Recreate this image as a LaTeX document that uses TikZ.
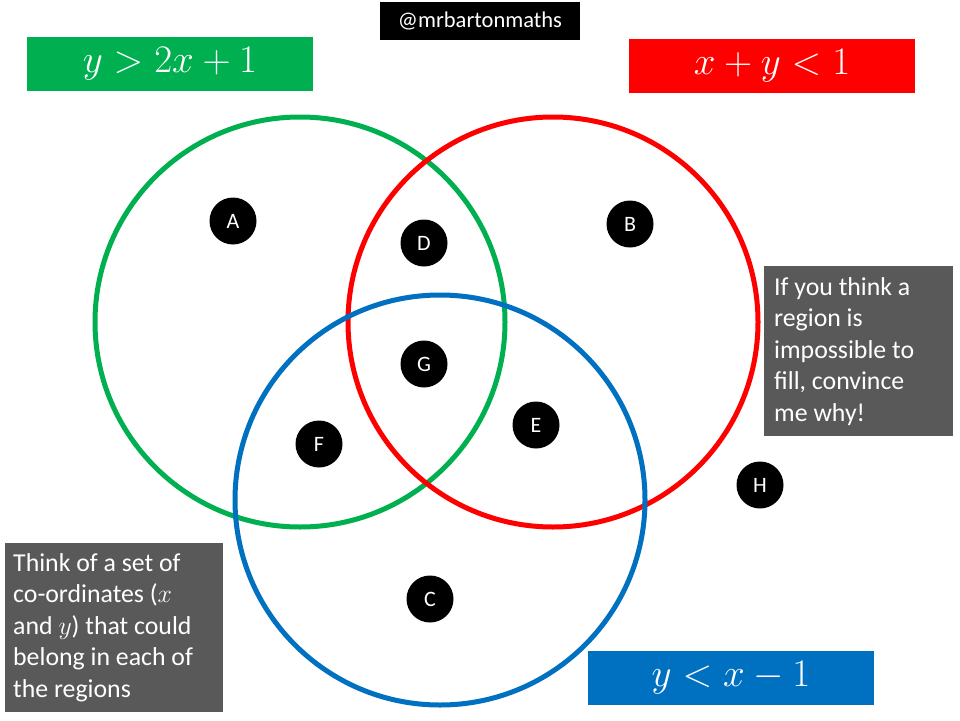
\RequirePackage{fix-cm}
\documentclass[tikz,border=0pt]{standalone}
\usepackage[no-math]{fontspec}
\setmainfont{Carlito}
\definecolor{vgreen}{HTML}{00B050}
\definecolor{vred}{HTML}{FF0000}
\definecolor{vblue}{HTML}{0070C0}
\definecolor{vgray}{HTML}{595959}
\tikzset{
  venn/.style={circle, line width=5pt, minimum size=410pt, inner sep=0pt},
  dot/.style={circle, fill=black, minimum size=47pt, inner sep=0pt, text=white, font=\fontsize{22}{26}\selectfont},
  eqbox/.style={minimum width=286pt, minimum height=54pt, inner sep=0pt, text=white, font=\fontsize{39}{47}\selectfont},
  graybox/.style={fill=vgray, draw=none},
  graytext/.style={anchor=north west, inner sep=0pt, align=left, text=white, font=\fontsize{25.8}{31.5}\selectfont}
}
\begin{document}
\begin{tikzpicture}[x=1pt,y=-1pt]
\useasboundingbox (0,0) rectangle (960,720);
\fill[white] (0,0) rectangle (960,720);
% circles
\node[venn, draw=vgreen] (gc) at (300,322) {};
\node[venn, draw=vred] (rc) at (553,322) {};
\node[venn, draw=vblue] (bc) at (440,500) {};
% labels
\node[eqbox, fill=vgreen] (gl) at (170,64) {$y>2x+1$};
\node[eqbox, fill=vred] (rl) at (772,66) {$x+y<1$};
\node[eqbox, fill=vblue] (bl) at (731,678) {$y<x-1$};
\node[fill=black, minimum width=200pt, minimum height=38pt, inner sep=0pt, text=white, font=\fontsize{22.5}{26}\selectfont] (tag) at (480,21) {@mrbartonmaths};
% dots
\node[dot] (A) at (233,221) {A};
\node[dot] (B) at (630,224) {B};
\node[dot] (D) at (424,243) {D};
\node[dot] (G) at (424,364) {G};
\node[dot] (E) at (536,425) {E};
\node[dot] (F) at (319,444) {F};
\node[dot] (C) at (430,599) {C};
\node[dot] (H) at (760,485) {H};
% gray boxes
\fill[graybox] (764,266) rectangle (953,436);
\node[graytext] (rt) at (774,277) {If you think a\\region is\\impossible to\\fill, convince\\me why!};
\fill[graybox] (5,543) rectangle (223,712);
\node[graytext] (lt) at (13,553) {Think of a set of\\co-ordinates ($x$\\and $y$) that could\\belong in each of\\the regions};
\end{tikzpicture}
\end{document}
